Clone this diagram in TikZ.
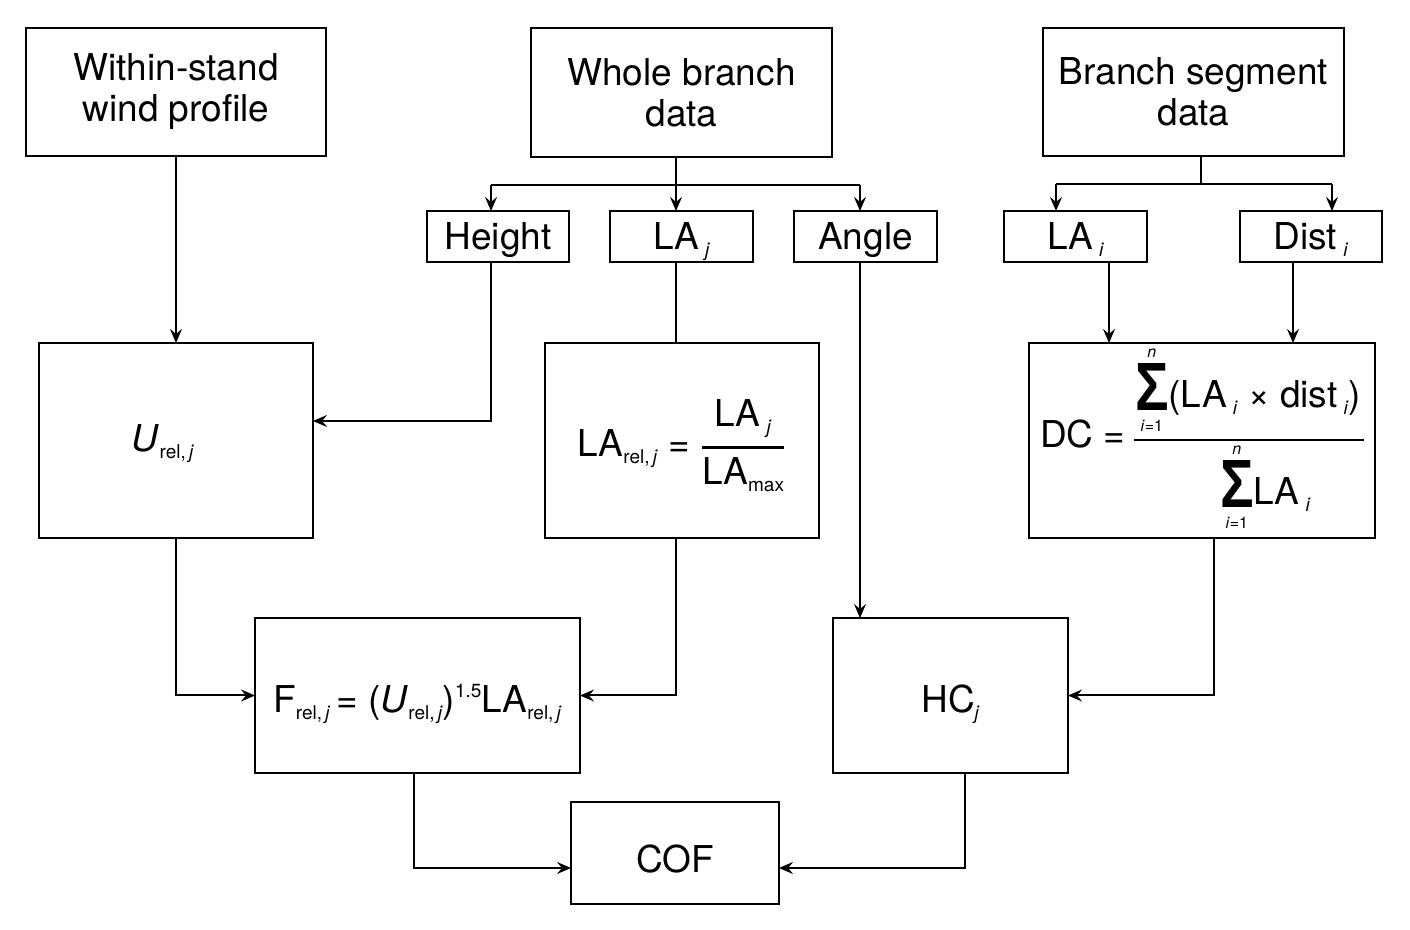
\documentclass[tikz,border=0pt]{standalone}
\usepackage{amsmath}
\usepackage{graphicx}
\usepackage{fontspec}
\setmainfont{TeX Gyre Heros}
\newfontfamily\sigfont{Liberation Sans}
\usetikzlibrary{arrows.meta}
\newcommand{\sbx}[1]{\raisebox{-3.5pt}{\fontsize{9.5}{9.5}\selectfont #1}}
\newcommand{\spx}[1]{\raisebox{8pt}{\fontsize{9.5}{9.5}\selectfont #1}}
\newcommand{\itj}{\textit{j}}
\newcommand{\iti}{\textit{i}}
\newcommand{\bsum}{\mathop{\mbox{\sigfont\bfseries\fontsize{28}{28}\selectfont\raisebox{-1.5pt}{\scalebox{1}[1.22]{Σ}}}}\limits_{\mbox{\fontsize{8}{8}\selectfont\textit{i}=1}}^{\mbox{\fontsize{8}{8}\selectfont\textit{n}}}\!}
\begin{document}
\begin{tikzpicture}[x=0.5pt,y=-0.5pt,
  box/.style={draw, line width=1pt, inner sep=0pt, outer sep=0pt, align=center, font=\fontsize{18.5}{20.5}\selectfont},
  txt/.style={inner sep=0pt, outer sep=0pt, font=\fontsize{18.5}{20.5}\selectfont},
  tb/.style={text height=#1, text depth=0pt},
  arr/.style={line width=1pt, -{Stealth[length=7pt,width=6pt,inset=2.5pt]}},
  ln/.style={line width=1pt}]
\useasboundingbox (0,0) rectangle (1410,930);
% top row
\node[box, minimum width=150pt, minimum height=64pt] (ws) at (176,92) {Within-stand\\wind profile};
\node[box, minimum width=150.5pt, minimum height=64.5pt] (wb) at (681.5,92.5) {Whole branch\\data};
\node[box, minimum width=150.5pt, minimum height=64pt] (bs) at (1193.5,92) {Branch segment\\data};
% second row
\node[box, tb=13.5pt, minimum width=71pt, minimum height=25.5pt] (ht) at (498,236.5) {Height};
\node[box, tb=13.5pt, minimum width=71.5pt, minimum height=25.5pt] (laj) at (681.5,236.5) {LA\,\sbx{\itj}};
\node[box, tb=13.5pt, minimum width=71.5pt, minimum height=25.5pt] (ang) at (865.5,236.5) {Angle};
\node[box, tb=13.5pt, minimum width=71.5pt, minimum height=25.5pt] (lai) at (1075.5,236.5) {LA\,\sbx{\iti}};
\node[box, tb=13.5pt, minimum width=71pt, minimum height=25.5pt] (dist) at (1311,236.5) {Dist\,\sbx{\iti}};
% third row
\node[box, tb=11.5pt, minimum width=137pt, minimum height=97.5pt] (urel) at (176,440.5) {\textit{U}\sbx{rel,\,\itj}\hspace*{13pt}};
\node[box, tb=16pt, minimum width=137pt, minimum height=97.5pt] (larel) at (682,440.5)
  {$\mbox{LA\sbx{rel,\,\itj}\ =\ }\genfrac{}{}{1.4pt}{0}{\mbox{LA\,\sbx{\itj}}}{\mbox{LA\sbx{max}}}$};
\node[box, minimum width=173pt, minimum height=97.5pt] (dc) at (1202,440.5) {};
\node[txt, anchor=base west] (dclhs) at (1040,448) {DC =};
\node[txt, anchor=base west] (dcnum) at (1135,408) {$\bsum\mbox{(LA\,\sbx{\iti} × dist\,\sbx{\iti})}$};
\node[txt, anchor=base west] (dcden) at (1220,505) {$\bsum\mbox{LA\,\sbx{\iti}}$};
\draw[line width=1.4pt] (1134,440) -- (1364,440);
% fourth row
\node[box, tb=17.5pt, minimum width=162.5pt, minimum height=77.5pt] (frel) at (417.5,695.5)
  {F\sbx{rel,\,\itj}\,= (\textit{U}\sbx{rel,\,\itj})\spx{1.5}LA\sbx{rel,\,\itj}};
\node[box, tb=16.5pt, minimum width=117.5pt, minimum height=77.5pt] (hc) at (950.5,695.5) {HC\sbx{\itj}};
\node[box, tb=19pt, minimum width=104pt, minimum height=51pt] (cof) at (675,853) {COF};
% whole branch split
\coordinate (wbj) at (676,185);
\coordinate (hx) at (491,185);
\coordinate (ax) at (860,185);
\draw[ln] (wbj |- wb.south) -- (wbj);
\draw[ln] (hx) -- (ax);
\draw[arr] (hx) -- (hx |- ht.north);
\draw[arr] (wbj) -- (wbj |- laj.north);
\draw[arr] (ax) -- (ax |- ang.north);
% branch segment split
\coordinate (bsj) at (1201,184);
\coordinate (lix) at (1056,184);
\coordinate (dix) at (1332,184);
\draw[ln] (bsj |- bs.south) -- (bsj);
\draw[ln] (lix) -- (dix);
\draw[arr] (lix) -- (lix |- lai.north);
\draw[arr] (dix) -- (dix |- dist.north);
\coordinate (li2) at (1109,300);
\coordinate (di2) at (1293,300);
\draw[arr] (li2 |- lai.south) -- (li2 |- dc.north);
\draw[arr] (di2 |- dist.south) -- (di2 |- dc.north);
% to third row
\draw[arr] (ws.south) -- (urel.north);
\coordinate (hy) at (491,421);
\draw[arr] (hx |- ht.south) -- (hy) -- (hy -| urel.east);
\draw[ln] (wbj |- laj.south) -- (wbj |- larel.north);
\draw[arr] (ax |- ang.south) -- (ax |- hc.north);
% to fourth row
\draw[arr] (urel.south) -- (urel.south |- frel.west) -- (frel.west);
\draw[arr] (wbj |- larel.south) -- (wbj |- frel.east) -- (frel.east);
\coordinate (dcx) at (1214,600);
\draw[arr] (dcx |- dc.south) -- (dcx |- hc.east) -- (hc.east);
% to COF
\coordinate (fx) at (414,868);
\coordinate (hcx) at (965,868);
\draw[arr] (fx |- frel.south) -- (fx) -- (fx -| cof.west);
\draw[arr] (hcx |- hc.south) -- (hcx) -- (hcx -| cof.east);
\end{tikzpicture}
\end{document}
